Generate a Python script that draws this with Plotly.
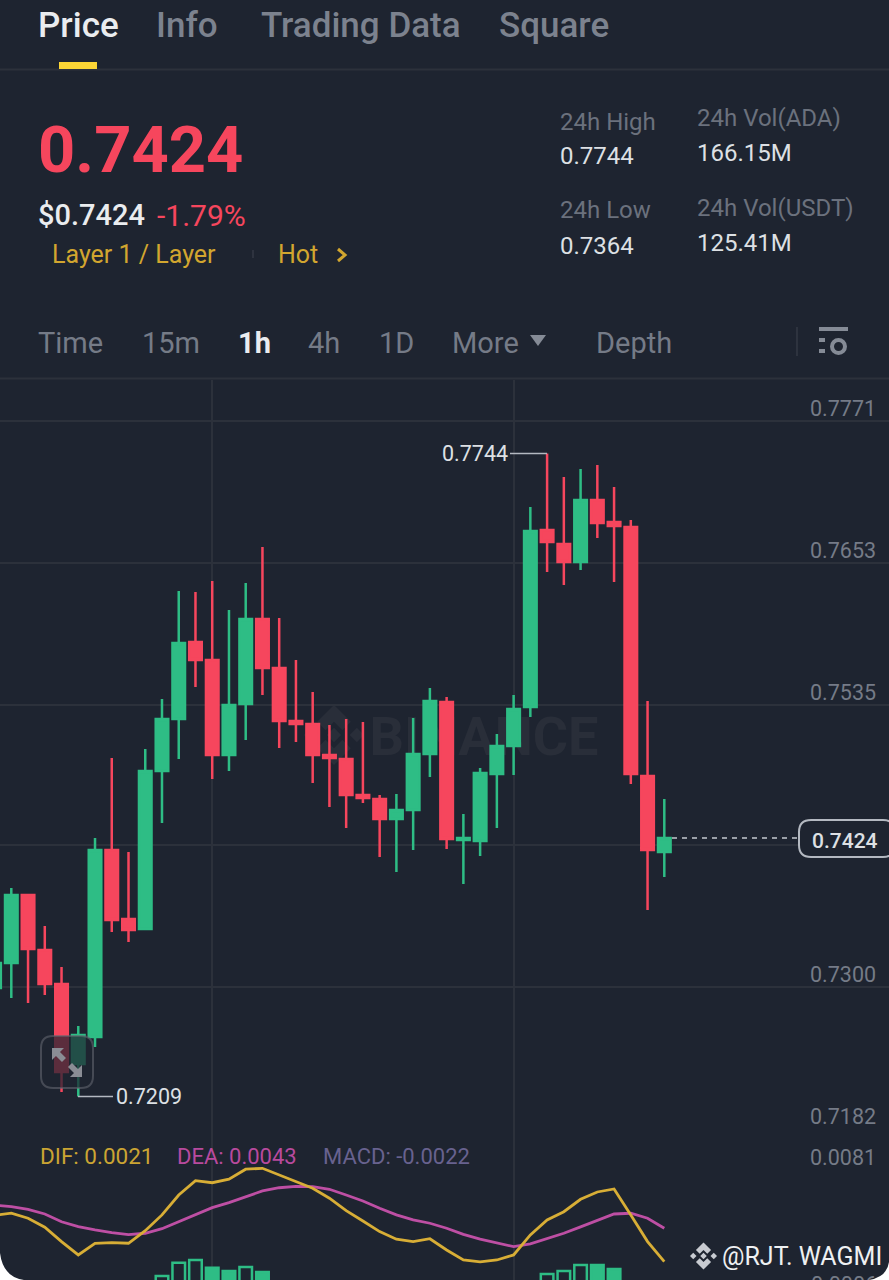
import plotly.graph_objects as go

W = 889
H = 1280
BG = '#1E2430'
RED = '#F6465D'
GREEN = '#2EBD85'
GOLD = '#D8AE36'
PINK = '#BE4FA4'
GREY = '#757B87'
LIGHT = '#DDE0E4'
YELLOW = '#D2A62F'
FONT = 'Roboto'

# hourly candles, first one is cut off by the left edge
candle_x = list(range(-1, 40))
opens = [0.72993, 0.73201, 0.73767, 0.73309, 0.73026, 0.72361, 0.72585, 0.74141, 0.73567, 0.73484,
         0.74798, 0.75231, 0.75872, 0.75722, 0.74931, 0.75356, 0.76063, 0.75655, 0.75214, 0.75189,
         0.74931, 0.74898, 0.74599, 0.74565, 0.74399, 0.74474, 0.74940, 0.75372, 0.74224, 0.74216,
         0.74773, 0.75006, 0.75331, 0.76803, 0.76687, 0.76537, 0.77053, 0.76870, 0.76828, 0.74757,
         0.74125]
highs = [0.73201, 0.73825, 0.73775, 0.73509, 0.73168, 0.72677, 0.74241, 0.74907, 0.74125, 0.74981,
         0.75397, 0.76296, 0.76288, 0.76379, 0.76138, 0.76362, 0.76662, 0.76071, 0.75722, 0.75456,
         0.75181, 0.75231, 0.75206, 0.74599, 0.74607, 0.75239, 0.75489, 0.75414, 0.74441, 0.74823,
         0.75106, 0.75431, 0.76995, 0.7744, 0.77244, 0.77311, 0.77344, 0.77161, 0.76887, 0.75381,
         0.74565]
lows = [0.72993, 0.72910, 0.72868, 0.72935, 0.72128, 0.7209, 0.72502, 0.73459, 0.73376, 0.73484,
        0.74366, 0.74898, 0.75497, 0.74732, 0.74798, 0.75056, 0.75431, 0.74990, 0.75040, 0.74699,
        0.74499, 0.74324, 0.74532, 0.74083, 0.73958, 0.74141, 0.74748, 0.74149, 0.73858, 0.74091,
        0.74324, 0.74765, 0.75248, 0.76454, 0.76346, 0.76471, 0.76737, 0.76371, 0.74690, 0.73642,
        0.73917]
closes = [0.73201, 0.73767, 0.73318, 0.73026, 0.72294, 0.72602, 0.74141, 0.73559, 0.73476, 0.74798,
          0.75231, 0.75863, 0.75722, 0.74931, 0.75347, 0.76063, 0.75655, 0.75214, 0.75189, 0.74931,
          0.74907, 0.74599, 0.74574, 0.74399, 0.74474, 0.74940, 0.75381, 0.74233, 0.74241, 0.74782,
          0.75006, 0.75314, 0.76795, 0.76704, 0.76537, 0.77053, 0.76862, 0.76837, 0.74773, 0.74141,
          0.7424]

price_ticks = [0.7771, 0.7653, 0.7535, 0.7418, 0.7300, 0.7182]
price_labels = ['0.7771', '0.7653', '0.7535', '', '0.7300', '0.7182']
time_grid = [12, 30]
last_price = 0.7424
high_price = 0.7744
low_price = 0.7209

dif = [0.00516, 0.00529, 0.00496, 0.00437, 0.00342, 0.00254, 0.00331, 0.00335, 0.00331, 0.00414,
       0.00518, 0.00649, 0.00744, 0.00730, 0.00753, 0.00819, 0.00825, 0.00781, 0.00742, 0.00694,
       0.00628, 0.00546, 0.00478, 0.00408, 0.00358, 0.00342, 0.00361, 0.00287, 0.00221, 0.00208,
       0.00221, 0.00254, 0.00386, 0.00485, 0.00539, 0.00621, 0.00669, 0.00689, 0.00518, 0.00342,
       0.0021]
dea = [0.00582, 0.00572, 0.00555, 0.00524, 0.00473, 0.00441, 0.00419, 0.00401, 0.00388, 0.00397,
       0.00427, 0.00473, 0.00524, 0.00566, 0.00599, 0.00638, 0.00676, 0.00697, 0.00706, 0.00704,
       0.00687, 0.00649, 0.00610, 0.00562, 0.00518, 0.00485, 0.00463, 0.0043, 0.0039, 0.00358,
       0.00331, 0.00309, 0.00327, 0.00360, 0.00397, 0.00439, 0.00480, 0.00524, 0.00529, 0.00496,
       0.0043]
hist_hollow_x = [9, 10, 11, 14, 32, 33, 34]
hist_hollow = [0.00116, 0.00202, 0.00221, 0.00175, 0.00129, 0.00149, 0.00188]
hist_solid_x = [12, 13, 15, 35, 36]
hist_solid = [0.00169, 0.00149, 0.00142, 0.00188, 0.00162]
macd_ticks = [0.0081, 0.0006]


def px(x):
    return x / W


def py(y):
    return 1 - y / H


def text(s, x, y, size, color, weight=400, anchor='left'):
    # glyphs start a little inside the annotation box
    return dict(text=s, x=px(x - 1.5), y=py(y), xref='paper', yref='paper', showarrow=False,
                xanchor=anchor, yanchor='middle', borderpad=0,
                font=dict(family=FONT, size=size, color=color, weight=weight))


def path(d, fill=None, line=None, width=0, layer='above'):
    return dict(type='path', path=d, xref='paper', yref='paper', layer=layer,
                fillcolor=fill if fill else 'rgba(0,0,0,0)',
                line=dict(color=line if line else 'rgba(0,0,0,0)', width=width))


def poly(points, close=True):
    d = 'M ' + ' L '.join(f'{px(a):.5f},{py(b):.5f}' for a, b in points)
    return d + (' Z' if close else '')


def round_rect(x0, y0, x1, y1, r):
    return (f'M {px(x0 + r):.5f},{py(y0):.5f} L {px(x1 - r):.5f},{py(y0):.5f} '
            f'Q {px(x1):.5f},{py(y0):.5f} {px(x1):.5f},{py(y0 + r):.5f} '
            f'L {px(x1):.5f},{py(y1 - r):.5f} Q {px(x1):.5f},{py(y1):.5f} {px(x1 - r):.5f},{py(y1):.5f} '
            f'L {px(x0 + r):.5f},{py(y1):.5f} Q {px(x0):.5f},{py(y1):.5f} {px(x0):.5f},{py(y1 - r):.5f} '
            f'L {px(x0):.5f},{py(y0 + r):.5f} Q {px(x0):.5f},{py(y0):.5f} {px(x0 + r):.5f},{py(y0):.5f} Z')


def hline(x0, x1, y, color, width=1.5):
    return path(poly([(x0, y), (x1, y)], False), line=color, width=width)


def logo(cx, cy, r, color, layer='above'):
    out = []
    for dx, dy in [(0, 0), (-0.76 * r, 0), (0.76 * r, 0)]:
        s = 0.24 * r
        out.append(path(poly([(cx + dx, cy + dy - s), (cx + dx + s, cy + dy),
                              (cx + dx, cy + dy + s), (cx + dx - s, cy + dy)]), fill=color, layer=layer))
    for sign in (-1, 1):
        out.append(path(poly([(cx, cy + sign * r), (cx + 0.56 * r, cy + sign * 0.44 * r),
                              (cx + 0.28 * r, cy + sign * 0.16 * r), (cx, cy + sign * 0.44 * r),
                              (cx - 0.28 * r, cy + sign * 0.16 * r), (cx - 0.56 * r, cy + sign * 0.44 * r)]),
                        fill=color, layer=layer))
    return out


fig = go.Figure()

fig.add_trace(go.Candlestick(x=candle_x, open=opens, high=highs, low=lows, close=closes,
                             whiskerwidth=0,
                             increasing=dict(line=dict(color=GREEN, width=2.5), fillcolor=GREEN),
                             decreasing=dict(line=dict(color=RED, width=2.5), fillcolor=RED)))

# MACD pane
fig.add_trace(go.Bar(x=hist_hollow_x, y=hist_hollow, width=0.75, yaxis='y2',
                     marker=dict(color=BG, line=dict(color=GREEN, width=2.5))))
fig.add_trace(go.Bar(x=hist_solid_x, y=hist_solid, width=0.75, yaxis='y2',
                     marker=dict(color=GREEN, line=dict(color=GREEN, width=2.5))))
fig.add_trace(go.Scatter(x=candle_x, y=dea, mode='lines', yaxis='y2', line=dict(color=PINK, width=2.8)))
fig.add_trace(go.Scatter(x=candle_x, y=dif, mode='lines', yaxis='y2', line=dict(color=GOLD, width=2.8)))

annotations = [
    text('Price', 38, 25, 35, '#EAECEF', 500),
    text('Info', 156, 25, 35, '#7C828E', 500),
    text('Trading Data', 261, 25, 35, '#7C828E', 500),
    text('Square', 499, 25, 35, '#7C828E', 500),
    text('0.7424', 38, 150, 65, RED, 700),
    text('$0.7424', 38, 215, 29, '#EAECEF', 500),
    text('-1.79%', 157, 215, 30, RED, 400),
    text('Layer 1 / Layer', 52, 254, 25, YELLOW),
    text('Hot', 278, 254, 25, YELLOW),
    text('24h High', 560, 122, 24, '#6B717D'),
    text('0.7744', 560, 156, 24, LIGHT),
    text('24h Low', 560, 210, 24, '#6B717D'),
    text('0.7364', 560, 246, 24, LIGHT),
    text('24h Vol(ADA)', 697, 118, 24, '#6B717D'),
    text('166.15M', 697, 153, 24, LIGHT),
    text('24h Vol(USDT)', 697, 208, 24, '#6B717D'),
    text('125.41M', 697, 243, 24, LIGHT),
    text('Time', 38, 343, 29, GREY),
    text('15m', 142, 343, 29, GREY),
    text('1h', 238, 343, 29, '#EAECEF', 700),
    text('4h', 308, 343, 29, GREY),
    text('1D', 379, 343, 29, GREY),
    text('More', 452, 343, 29, GREY),
    text('Depth', 596, 343, 29, GREY),
    text('DIF: 0.0021', 40, 1156, 22.5, '#CBA533'),
    text('DEA: 0.0043', 177, 1156, 22, '#B84A9E'),
    text('MACD: -0.0022', 323, 1156, 22, '#68628F'),
    text('@RJT. WAGMI', 722, 1256, 25, '#EEF0F2'),
    text(f'{last_price:.4f}', 812, 841, 21, LIGHT, 500),
]

# right axis labels sit just above their grid lines
for tick, label in zip(price_ticks, price_labels):
    if label:
        annotations.append(dict(text=label, x=px(878), xref='paper', xanchor='right', y=tick, yref='y',
                                yanchor='middle', yshift=12.5, showarrow=False,
                                font=dict(family=FONT, size=21.5, color=GREY)))
annotations.append(dict(text=f'{macd_ticks[0]:.4f}', x=px(878), xref='paper', xanchor='right', y=macd_ticks[0],
                        yref='y2', yanchor='middle', yshift=13, showarrow=False,
                        font=dict(family=FONT, size=21.5, color=GREY)))
annotations.append(text(f'{macd_ticks[1]:.4f}', 879, 1284, 21.5, GREY, anchor='right'))

annotations.append(dict(text=f'{high_price:.4f}', x=px(510), xref='paper', xanchor='right', y=high_price, yref='y',
                        yanchor='middle', showarrow=False, font=dict(family=FONT, size=21.5, color=LIGHT)))
annotations.append(dict(text=f'{low_price:.4f}', x=px(114), xref='paper', xanchor='left', y=low_price, yref='y',
                        yanchor='middle', showarrow=False, font=dict(family=FONT, size=21.5, color=LIGHT)))

shapes = [
    hline(0, W, 69.5, '#2C313B', 2),
    hline(0, W, 378.5, '#2C313B', 2),
    path(poly([(59, 62), (97, 62), (97, 69), (59, 69)]), fill='#FCD535'),
    path(poly([(338, 249), (345, 255), (338, 261)], False), line=YELLOW, width=3),
    path(poly([(253, 250), (253, 258)], False), line='#343944', width=1.5),
    path(poly([(530, 335), (546, 335), (538, 346)]), fill='#858B96'),
    path(poly([(797, 327), (797, 356)], False), line='#343944', width=1.5),
    # settings icon
    path(poly([(819, 327), (848, 327), (848, 331), (819, 331)]), fill='#858B96'),
    path(poly([(819, 338), (825, 338), (825, 342), (819, 342)]), fill='#858B96'),
    path(poly([(819, 349), (825, 349), (825, 353), (819, 353)]), fill='#858B96'),
    dict(type='circle', xref='paper', yref='paper', x0=px(832), x1=px(845), y0=py(353), y1=py(340),
         line=dict(color='#858B96', width=4)),
    # last price marker
    dict(type='line', xref='paper', yref='y', x0=px(672), x1=px(798), y0=last_price, y1=last_price,
         line=dict(color='#C4C8CE', width=1.5, dash='5px,5px')),
    path(round_rect(799, 820, 895, 857, 12), fill=BG, line='#B4B9C1', width=2),
    # high and low leaders
    dict(type='line', xref='paper', yref='y', x0=px(510), x1=px(547), y0=high_price, y1=high_price,
         line=dict(color='#B4B9C1', width=1.5)),
    dict(type='line', xref='paper', yref='y', x0=px(78), x1=px(113), y0=low_price, y1=low_price,
         line=dict(color='#B4B9C1', width=1.5)),
    # expand button over the chart
    path(round_rect(41, 1036, 93, 1088, 12), fill='rgba(30,36,48,0.72)', line='rgba(96,100,110,0.6)', width=2),
    path(poly([(52, 1048), (64, 1048), (60, 1052), (66, 1058), (62, 1062), (56, 1056), (52, 1060)]), fill='#8A8D95'),
    path(poly([(82, 1077), (70, 1077), (74, 1073), (68, 1067), (72, 1063), (78, 1069), (82, 1065)]), fill='#8A8D95'),
    # BINANCE watermark under the candles
    dict(type='rect', xref='paper', yref='paper', x0=px(365), x1=px(603), y0=py(709), y1=py(755), layer='below',
         fillcolor='rgba(0,0,0,0)', line=dict(width=0),
         label=dict(text='BINANCE', textposition='middle center',
                    font=dict(family=FONT, size=54, color='#292E39', weight=700))),
    # rounded screenshot corners
    path(f'M 0,{py(1253):.5f} Q {px(3):.5f},{py(1277):.5f} {px(24):.5f},0 L 0,0 Z', fill='#FFFFFF'),
    path(f'M 1,{py(1262):.5f} Q {px(887):.5f},{py(1277):.5f} {px(869):.5f},0 L 1,0 Z', fill='#FFFFFF'),
]
shapes += logo(334, 735, 30, '#292E39', layer='below')
shapes += logo(703.5, 1256, 13.5, '#C8CBD1')

fig.update_layout(
    width=W, height=H, autosize=False,
    margin=dict(l=0, r=0, t=0, b=0, pad=0),
    paper_bgcolor=BG, plot_bgcolor='rgba(0,0,0,0)',
    showlegend=False, hovermode=False,
    boxgap=0.25, boxgroupgap=0, bargap=0.2, barmode='overlay',
    xaxis=dict(range=[-0.675, 52.42], rangeslider_visible=False, showticklabels=False, ticks='',
               tickmode='array', tickvals=time_grid, showgrid=True, gridcolor='#2C313B', gridwidth=1.5,
               zeroline=False, showline=False, anchor='y2'),
    yaxis=dict(domain=[py(1129), py(380)], range=[0.7182, 0.78051], tickmode='array', tickvals=price_ticks,
               showticklabels=False, ticks='', showgrid=True, gridcolor='#2C313B', gridwidth=1.5,
               zeroline=False, showline=False),
    yaxis2=dict(domain=[0, py(1129)], range=[0.00089, 0.01084], showticklabels=False, ticks='',
                showgrid=False, zeroline=False, showline=False),
    annotations=annotations,
    shapes=shapes,
)

fig.write_html("out.html", config={'displayModeBar': False},
               post_script="document.body.style.margin='0';")
